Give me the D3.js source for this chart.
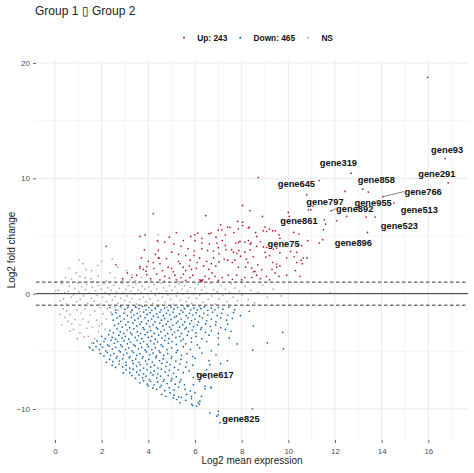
<!DOCTYPE html>
<html><head><meta charset="utf-8">
<script src="https://cdn.jsdelivr.net/npm/d3@7"></script>
<style>body{margin:0;background:#fff}svg{display:block}</style>
</head><body>
<svg id="chart" width="474" height="473"></svg>
<script>
const title = "Group 1 \u25AF Group 2";
const xLabel = "Log2 mean expression";
const yLabel = "Log2 fold change";
const xTicks = [0,2,4,6,8,10,12,14,16];
const yTicks = [-10,0,10,20];
const legendLabels = ["Up: 243","Down: 465","NS"];
const fcLines = [0,-1,1];

const labeledGenes = [
 {name:"gene93",x:16.72,y:11.71,status:"up"},
 {name:"gene291",x:16.85,y:9.61,status:"up"},
 {name:"gene319",x:12.69,y:10.45,status:"up"},
 {name:"gene858",x:13.43,y:8.81,status:"up"},
 {name:"gene645",x:11.32,y:9.81,status:"up"},
 {name:"gene766",x:14.05,y:8.42,status:"up"},
 {name:"gene797",x:10.97,y:7.27,status:"up"},
 {name:"gene955",x:13.72,y:6.64,status:"up"},
 {name:"gene892",x:11.83,y:7.19,status:"up"},
 {name:"gene513",x:14.53,y:7.85,status:"up"},
 {name:"gene861",x:11.54,y:6.41,status:"up"},
 {name:"gene523",x:13.39,y:5.31,status:"up"},
 {name:"gene75",x:10.57,y:4.16,status:"up"},
 {name:"gene896",x:11.33,y:4.39,status:"up"},
 {name:"gene617",x:5.93,y:-7.25,status:"down"},
 {name:"gene825",x:7.07,y:-11.19,status:"down"}
];

const upPoints = [
[15.97,18.76],[13.19,9.06],[12.43,8.86],[11.06,7.6],[10.79,8.57],[10.86,7.27],[12.07,6.32],[12.5,6.7],[13.33,6.64],[11.6,6.03],[11.5,5.54],[10.43,4.24],[10.83,4.59],[11.47,4.68],
[10.64,3.09],[10.8,3.1],[10.0,7.04],[10.04,6.7],[10.23,5.31],[10.45,5.17],[10.1,3.66],[10.36,3.58],[10.25,3.2],[10.36,2.7],[10.55,2.9],[10.6,2.6],[10.3,2.0],[10.5,1.5],
[9.93,3.09],[9.93,1.6],[9.6,5.1],[9.64,4.8],[9.33,5.45],[9.45,5.45],[9.19,5.6],[9.07,5.39],[8.93,5.45],[9.0,5.77],[9.36,3.85],[9.5,3.95],[9.64,3.55],[9.07,4.0],[8.93,4.05],
[9.0,3.58],[9.04,3.17],[9.2,3.3],[9.33,2.7],[9.5,2.57],[9.64,2.4],[9.3,2.1],[9.5,2.3],[9.07,1.5],[9.43,1.8],[9.6,1.5],[8.86,2.07],[8.89,6.7],[8.71,10.07],
[8.04,7.65],[8.36,7.2],[7.83,6.26],[8.04,6.2],[8.04,5.9],[8.29,5.7],[8.33,5.77],[7.86,5.6],[7.4,5.77],[7.1,5.97],[7.5,5.74],[7.15,5.54],[7.0,5.5],[6.6,5.2],[6.69,5.25],
[6.12,5.25],[6.0,5.1],[7.67,5.3],[8.64,4.96],[8.14,4.47],[8.29,4.6],[8.4,4.4],[7.93,4.53],[8.36,4.3],[8.64,4.1],[7.86,4.45],[7.75,4.39],[7.3,4.18],[7.17,4.6],[7.0,3.99],
[6.94,4.39],[6.62,4.3],[6.29,4.39],[6.0,4.59],[8.36,3.8],[8.14,3.6],[7.88,3.75],[7.65,3.6],[7.57,3.81],[7.8,3.5],[7.33,3.8],[7.03,3.46],[6.79,3.7],[6.54,3.75],[6.29,3.9],
[5.97,3.7],[7.71,2.9],[7.25,3.0],[7.4,2.9],[7.6,2.7],[7.03,2.75],[6.89,2.4],[6.59,2.1],[6.73,1.8],[6.37,2.4],[6.06,2.2],[7.86,2.3],[8.17,2.3],[8.27,2.7],[8.5,1.9],
[8.69,2.5],[8.43,2.22],[8.57,1.93],[8.64,1.6],[8.43,1.4],[8.14,1.4],[7.79,1.6],[7.43,1.6],[7.17,1.4],[6.86,1.5],[6.43,1.5],[6.21,1.2],[6.27,1.15],[6.33,1.2],[6.3,1.08],
[6.24,1.1],[6.46,6.76],[8.0,1.2],[7.6,1.25],[7.0,1.15],[6.6,1.3],[8.8,1.3],[9.2,1.2],[6.8,3.1],[6.5,2.8],[6.2,3.1],[8.5,3.2],[8.2,3.0],[7.95,3.25],[6.9,4.9],[7.3,5.1],
[6.3,4.8],[8.6,5.3],[8.8,4.5],[6.1,2.7],[6.7,2.6],
[4.21,6.93],[5.82,4.96],[5.7,3.9],[5.4,4.1],[4.7,4.47],[4.39,4.59],[4.43,3.75],[4.47,3.09],[4.78,3.03],[4.21,2.7],[4.5,2.6],[4.85,2.3],[5.07,1.9],[5.29,2.8],[5.36,2.6],
[5.5,2.3],[5.79,2.9],[5.76,2.4],[5.79,1.4],[5.5,1.7],[5.14,1.6],[4.7,1.5],[4.36,1.7],[3.64,4.96],[3.86,5.1],[2.19,4.1],[2.61,2.5],[3.83,3.8],[3.64,2.2],[3.79,2.1],
[3.93,2.35],[4.24,2.2],[4.43,3.1],[3.9,1.95],[3.64,2.36],[3.93,1.65],[4.1,1.3],[4.5,1.2],[4.9,1.35],[5.2,1.2],[5.6,1.15],[5.9,1.6],[5.3,3.4],[5.0,3.6],[4.9,4.9],
[5.2,5.3],[5.6,3.3],[5.95,3.3],[4.6,2.0],[5.0,2.2],[5.4,1.4],[4.3,3.4],[3.5,1.6],[3.3,1.4],[3.1,1.8],[2.9,1.3],[4.0,2.8],[5.6,2.0],[5.85,2.1],[3.7,3.1],[5.1,4.3],[5.5,4.6]
];

const downPoints = [
[2.35,-1.2],[2.6,-1.4],[2.8,-1.1],[3.0,-1.35],[3.12,-1.2],[3.3,-1.45],[3.45,-1.15],[3.6,-1.3],[3.75,-1.1],[3.9,-1.4],[4.02,-1.2],[4.15,-1.45],[4.3,-1.3],[4.42,-1.1],[4.55,-1.4],[4.7,-1.25],[4.85,-1.45],[4.97,-1.15],[5.1,-1.35],[5.25,-1.2],[5.4,-1.45],[5.55,-1.3],[5.7,-1.1],[5.82,-1.4],[5.95,-1.25],[6.1,-1.4],[6.25,-1.3],[6.4,-1.15],[6.55,-1.45],[6.7,-1.25],[6.85,-1.4],[7.0,-1.2],[7.2,-1.35],[7.45,-1.15],[7.7,-1.4],[8.33,-1.53],
[2.45,-1.8],[2.62,-1.65],[2.78,-1.95],[2.95,-1.7],[3.1,-1.9],[3.25,-1.6],[3.38,-1.85],[3.52,-1.7],[3.66,-1.95],[3.8,-1.6],[3.95,-1.8],[4.08,-1.65],[4.22,-1.95],[4.36,-1.75],[4.5,-1.6],[4.64,-1.9],[4.78,-1.7],[4.92,-1.85],[5.06,-1.6],[5.2,-1.95],[5.34,-1.75],[5.48,-1.6],[5.62,-1.9],[5.76,-1.7],[5.9,-1.85],[6.05,-1.65],[6.2,-1.95],[6.38,-1.7],[6.55,-1.85],[6.75,-1.6],[6.95,-1.9],[7.15,-1.7],[7.4,-1.85],[7.65,-1.65],[7.95,-1.9],
[2.5,-2.3],[2.66,-2.1],[2.82,-2.4],[2.97,-2.2],[3.13,-2.45],[3.28,-2.05],[3.42,-2.3],[3.57,-2.15],[3.71,-2.45],[3.86,-2.1],[4.0,-2.35],[4.14,-2.2],[4.28,-2.45],[4.42,-2.05],[4.56,-2.3],[4.7,-2.15],[4.84,-2.4],[4.98,-2.25],[5.12,-2.05],[5.27,-2.4],[5.41,-2.2],[5.56,-2.45],[5.7,-2.1],[5.85,-2.35],[6.0,-2.2],[6.15,-2.45],[6.32,-2.1],[6.5,-2.35],[6.7,-2.2],[6.9,-2.45],[7.1,-2.1],[7.35,-2.3],[7.6,-2.15],
[2.55,-2.75],[2.72,-2.6],[2.88,-2.9],[3.04,-2.7],[3.2,-2.95],[3.34,-2.55],[3.5,-2.8],[3.64,-2.65],[3.78,-2.95],[3.92,-2.6],[4.06,-2.85],[4.2,-2.7],[4.35,-2.95],[4.49,-2.55],[4.63,-2.8],[4.77,-2.65],[4.91,-2.9],[5.05,-2.75],[5.2,-2.55],[5.34,-2.9],[5.48,-2.7],[5.63,-2.95],[5.78,-2.6],[5.93,-2.85],[6.1,-2.7],[6.28,-2.95],[6.46,-2.6],[6.66,-2.85],[6.88,-2.7],[7.1,-2.95],[7.4,-2.65],[8.5,-2.8],
[2.35,-3.2],[2.5,-3.4],[2.66,-3.05],[2.8,-3.3],[2.95,-3.45],[3.1,-3.15],[3.24,-3.4],[3.38,-3.05],[3.53,-3.3],[3.67,-3.45],[3.82,-3.1],[3.96,-3.35],[4.1,-3.2],[4.25,-3.45],[4.4,-3.05],[4.54,-3.3],[4.68,-3.15],[4.83,-3.45],[4.97,-3.1],[5.12,-3.35],[5.27,-3.2],[5.42,-3.45],[5.57,-3.05],[5.72,-3.3],[5.88,-3.15],[6.05,-3.4],[6.25,-3.1],[6.45,-3.35],[6.7,-3.2],[7.0,-3.45],[7.3,-3.1],[7.55,-3.26],[9.76,-3.35],
[2.0,-3.7],[2.15,-3.9],[2.3,-3.55],[2.45,-3.8],[2.6,-3.95],[2.74,-3.6],[2.88,-3.85],[3.02,-3.7],[3.16,-3.95],[3.3,-3.55],[3.44,-3.8],[3.58,-3.65],[3.72,-3.9],[3.86,-3.55],[4.0,-3.8],[4.15,-3.7],[4.3,-3.95],[4.44,-3.6],[4.58,-3.85],[4.73,-3.65],[4.88,-3.9],[5.03,-3.55],[5.18,-3.8],[5.34,-3.7],[5.5,-3.95],[5.67,-3.6],[5.85,-3.85],[6.05,-3.7],[6.3,-3.9],[6.6,-3.6],[7.0,-3.85],[7.47,-3.84],
[1.65,-4.3],[1.8,-4.1],[1.95,-4.4],[2.1,-4.15],[2.25,-4.45],[2.4,-4.05],[2.54,-4.3],[2.68,-4.15],[2.82,-4.45],[2.96,-4.1],[3.1,-4.35],[3.24,-4.2],[3.38,-4.45],[3.52,-4.05],[3.66,-4.3],[3.8,-4.15],[3.95,-4.4],[4.1,-4.1],[4.25,-4.35],[4.4,-4.2],[4.55,-4.45],[4.7,-4.05],[4.86,-4.3],[5.02,-4.15],[5.2,-4.4],[5.4,-4.1],[5.6,-4.35],[5.85,-4.2],[6.1,-4.45],[6.5,-4.15],[7.0,-4.4],[7.81,-4.36],[9.1,-4.27],
[1.5,-4.7],[1.62,-4.9],[1.76,-4.6],[1.9,-4.85],[2.04,-4.65],[2.18,-4.95],[2.32,-4.55],[2.46,-4.8],[2.6,-4.65],[2.74,-4.95],[2.88,-4.6],[3.02,-4.85],[3.16,-4.7],[3.3,-4.95],[3.44,-4.55],[3.58,-4.8],[3.72,-4.65],[3.86,-4.9],[4.0,-4.6],[4.15,-4.85],[4.3,-4.7],[4.46,-4.95],[4.62,-4.6],[4.8,-4.85],[5.0,-4.7],[5.25,-4.9],[5.5,-4.6],[5.8,-4.85],[6.2,-4.7],[6.7,-4.95],[8.47,-4.9],[9.79,-4.79],
[1.95,-5.2],[2.1,-5.4],[2.24,-5.1],[2.38,-5.35],[2.52,-5.2],[2.66,-5.45],[2.8,-5.05],[2.94,-5.3],[3.08,-5.15],[3.22,-5.45],[3.36,-5.1],[3.5,-5.35],[3.64,-5.2],[3.78,-5.45],[3.92,-5.05],[4.06,-5.3],[4.2,-5.15],[4.35,-5.4],[4.5,-5.1],[4.66,-5.35],[4.83,-5.2],[5.0,-5.45],[5.2,-5.1],[5.42,-5.35],[5.65,-5.2],[5.9,-5.45],[6.3,-5.15],[6.9,-5.3],
[2.2,-5.95],[2.34,-5.7],[2.48,-5.9],[2.62,-5.6],[2.76,-5.85],[2.9,-5.65],[3.04,-5.95],[3.18,-5.55],[3.32,-5.8],[3.46,-5.65],[3.6,-5.95],[3.74,-5.6],[3.88,-5.85],[4.02,-5.7],[4.17,-5.95],[4.32,-5.55],[4.48,-5.8],[4.64,-5.65],[4.8,-5.95],[4.98,-5.6],[5.18,-5.85],[5.4,-5.7],[5.65,-5.95],[6.0,-5.6],[6.6,-5.8],[7.39,-5.8],
[2.45,-6.2],[2.6,-6.4],[2.75,-6.1],[2.9,-6.35],[3.05,-6.2],[3.2,-6.45],[3.35,-6.05],[3.5,-6.3],[3.65,-6.15],[3.8,-6.45],[3.95,-6.1],[4.1,-6.35],[4.26,-6.2],[4.42,-6.45],[4.58,-6.05],[4.75,-6.3],[4.93,-6.15],[5.12,-6.4],[5.35,-6.1],[5.6,-6.35],[5.9,-6.2],[6.64,-6.15],[7.1,-6.06],
[2.93,-6.87],[3.05,-6.6],[3.2,-6.85],[3.35,-6.55],[3.5,-6.8],[3.65,-6.65],[3.8,-6.95],[3.95,-6.6],[4.1,-6.85],[4.25,-6.7],[4.4,-6.95],[4.56,-6.55],[4.72,-6.8],[4.9,-6.65],[5.08,-6.9],[5.28,-6.6],[5.5,-6.85],[5.75,-6.7],[6.1,-6.9],[6.5,-6.6],
[3.3,-7.1],[3.45,-7.35],[3.6,-7.05],[3.75,-7.3],[3.9,-7.15],[4.05,-7.45],[4.2,-7.05],[4.36,-7.3],[4.52,-7.15],[4.68,-7.45],[4.85,-7.1],[5.02,-7.35],[5.2,-7.2],[5.4,-7.45],[6.3,-7.1],[6.6,-7.35],
[3.64,-7.73],[3.8,-7.55],[3.95,-7.85],[4.1,-7.6],[4.25,-7.9],[4.4,-7.65],[4.56,-7.95],[4.64,-7.6],[4.8,-7.8],[4.98,-7.55],[5.15,-7.85],[5.35,-7.65],[5.55,-7.9],[5.93,-7.9],[6.2,-7.6],
[4.0,-8.0],[4.2,-8.2],[4.36,-8.3],[4.5,-8.1],[4.7,-8.4],[4.9,-8.15],[5.1,-8.35],[5.3,-8.1],[5.57,-8.3],[5.8,-8.45],[6.43,-8.03],[6.67,-8.1],[6.43,-8.25],[6.7,-8.17],
[4.57,-8.74],[4.75,-8.9],[4.93,-8.6],[5.1,-8.8],[5.3,-8.95],[5.64,-8.74],[5.85,-8.9],[6.28,-8.9],[6.0,-8.6],
[5.07,-9.03],[5.21,-9.18],[5.42,-9.0],[5.36,-9.46],[5.6,-9.25],[6.21,-9.32],[6.14,-9.47],[5.85,-9.1],
[5.86,-9.6],[6.07,-9.76],[5.9,-9.7],[6.19,-9.6],[6.64,-10.33],[7.0,-10.2],[6.93,-10.62],[8.46,-9.98],[7.0,-10.5]
];

const nsPoints = [
[0.03,0.25],[0.15,0.3],[0.22,-0.6],[0.3,0.85],[0.36,-0.46],[0.42,0.1],[0.5,-0.9],[0.57,0.2],[0.62,0.65],[0.7,-0.3],[0.79,-0.1],[0.85,0.45],[0.92,-0.7],[0.98,0.9],
[1.03,0.15],[1.08,-0.5],[1.15,0.6],[1.22,-0.2],[1.3,0.35],[1.36,0.78],[1.4,-0.85],[1.47,0.05],[1.55,-0.4],[1.6,0.55],[1.68,-0.65],[1.74,0.25],[1.8,-0.15],[1.86,0.7],[1.93,-0.9],[1.98,0.4],
[2.04,-0.3],[2.1,0.85],[2.15,0.1],[2.21,-0.7],[2.27,0.5],[2.33,-0.1],[2.4,0.3],[2.46,-0.55],[2.52,0.75],[2.57,-0.25],[2.63,0.15],[2.7,-0.85],[2.76,0.45],[2.82,-0.4],[2.88,0.9],[2.93,0.05],[2.98,-0.6],
[3.03,0.35],[3.08,-0.2],[3.14,0.7],[3.2,-0.75],[3.25,0.2],[3.3,-0.4],[3.36,0.55],[3.42,-0.05],[3.47,0.85],[3.5,-0.9],[3.56,0.3],[3.62,-0.5],[3.68,0.1],[3.73,0.65],[3.79,-0.3],[3.85,0.4],[3.9,-0.7],[3.96,0.0],
[4.02,0.6],[4.07,-0.45],[4.13,0.2],[4.19,-0.85],[4.25,0.8],[4.3,-0.15],[4.36,0.4],[4.42,-0.6],[4.48,0.05],[4.53,0.9],[4.6,-0.3],[4.66,0.5],[4.72,-0.75],[4.78,0.25],[4.84,-0.1],[4.9,0.7],[4.95,-0.5],
[5.02,0.3],[5.08,-0.9],[5.14,0.6],[5.2,-0.2],[5.26,0.1],[5.32,0.85],[5.38,-0.55],[5.44,0.4],[5.5,-0.05],[5.56,0.7],[5.62,-0.7],[5.68,0.2],[5.74,-0.35],[5.8,0.55],[5.86,-0.85],[5.92,0.0],
[6.0,0.45],[6.07,-0.4],[6.14,0.8],[6.2,-0.1],[6.28,0.3],[6.35,-0.75],[6.42,0.6],[6.5,0.05],[6.57,-0.5],[6.64,0.9],[6.72,-0.2],[6.8,0.35],[6.88,-0.9],[6.95,0.15],
[7.04,-0.45],[7.12,0.7],[7.2,-0.15],[7.3,0.4],[7.38,-0.7],[7.47,0.1],[7.55,0.85],[7.63,-0.3],[7.72,0.5],[7.82,-0.6],[7.9,0.2],
[8.02,-0.1],[8.15,0.65],[8.28,-0.5],[8.4,0.3],[8.55,-0.8],[8.7,0.1],[8.9,0.75],[9.1,-0.3],[9.35,0.4],[9.7,-0.2],[11.8,0.1],
[0.71,1.27],[1.07,1.5],[1.29,1.36],[1.55,1.3],[1.86,1.56],[2.21,1.1],[2.57,1.4],[2.9,1.15],[3.21,1.2],[3.7,1.4],[3.45,1.1],[0.9,1.8],[1.04,2.94],[1.33,2.1],[1.57,2.0],[1.83,2.45],
[2.35,1.8],[3.07,2.0],[2.7,2.3],[0.45,1.4],[0.3,1.1],[1.2,2.6],[2.0,2.8],[4.1,1.15],[4.43,5.1],[4.43,4.5],[2.45,3.0],[1.65,1.05],[0.6,2.2],[3.95,1.05],[4.7,1.1],[5.3,1.05],[3.3,1.6],
[0.21,-1.8],[0.35,-1.3],[0.43,-2.05],[0.5,-1.5],[0.64,-1.8],[0.72,-2.6],[0.86,-2.25],[0.95,-1.4],[1.07,-2.7],[1.12,-1.7],[1.2,-2.2],[1.29,-1.3],[1.36,-3.0],[1.43,-2.45],[1.5,-1.85],[1.6,-2.9],
[1.71,-1.5],[1.78,-2.3],[1.86,-3.3],[1.93,-1.2],[2.0,-2.6],[2.07,-1.75],[2.15,-3.1],[0.64,-3.26],[0.79,-3.1],[1.07,-3.4],[1.25,-3.75],[1.43,-3.7],[1.57,-4.27],[1.45,-4.6],[1.7,-3.9],[0.95,-3.9],
[2.25,-1.3],[2.4,-1.6],[2.55,-1.15],[2.7,-1.45],[2.85,-1.25],[3.0,-1.6],[3.15,-1.1],[3.3,-1.4],[3.5,-1.2],[3.65,-1.55],[3.85,-1.1],[4.3,-1.2],[4.8,-1.15],[5.5,-1.1],[6.2,-1.15],[0.3,-2.7],[0.55,-2.4],[2.2,-2.2],[1.9,-2.75]
];

const colors = {up:"#B31B21", down:"#1465AC", ns:"#A9A9A9"};

const svg = d3.select("#chart");
const W = 474, H = 473;
const panel = {left:36, right:468, top:60, bottom:440};
const x = d3.scaleLinear().domain([-0.814, 17.70]).range([panel.left, panel.right]);
const y = d3.scaleLinear().domain([-12.69, 20.26]).range([panel.bottom, panel.top]);
const font = "'Liberation Sans', Arial, Helvetica, sans-serif";

svg.append("rect").attr("width",W).attr("height",H).attr("fill","#fff");

// grid
const g = svg.append("g");
const xMinor = d3.range(1, 18, 2);
const yMinor = [-5, 5, 15];
g.selectAll(".xminor").data(xMinor).join("line")
 .attr("x1",d=>x(d)).attr("x2",d=>x(d)).attr("y1",panel.top).attr("y2",panel.bottom)
 .attr("stroke","#EFEFEF").attr("stroke-width",0.7);
g.selectAll(".yminor").data(yMinor).join("line")
 .attr("y1",d=>y(d)).attr("y2",d=>y(d)).attr("x1",panel.left).attr("x2",panel.right)
 .attr("stroke","#EFEFEF").attr("stroke-width",0.7);
g.selectAll(".xmajor").data(xTicks).join("line")
 .attr("x1",d=>x(d)).attr("x2",d=>x(d)).attr("y1",panel.top).attr("y2",panel.bottom)
 .attr("stroke","#EBEBEB").attr("stroke-width",1);
g.selectAll(".ymajor").data(yTicks).join("line")
 .attr("y1",d=>y(d)).attr("y2",d=>y(d)).attr("x1",panel.left).attr("x2",panel.right)
 .attr("stroke","#EBEBEB").attr("stroke-width",1);

// points
const pts = svg.append("g");
function drawPts(data, col){
  pts.append("g").selectAll("circle").data(data).join("circle")
   .attr("cx",d=>x(d[0])).attr("cy",d=>y(d[1])).attr("r",0.85).attr("fill",col);
}
drawPts(nsPoints, colors.ns);
drawPts(upPoints, colors.up);
drawPts(downPoints, colors.down);
pts.append("g").selectAll("circle").data(labeledGenes).join("circle")
 .attr("cx",d=>x(d.x)).attr("cy",d=>y(d.y)).attr("r",0.85).attr("fill",d=>colors[d.status]);

// reference lines
svg.append("g").selectAll("line").data(fcLines).join("line")
 .attr("x1",panel.left).attr("x2",panel.right)
 .attr("y1",d=>y(d)).attr("y2",d=>y(d))
 .attr("stroke","#333").attr("stroke-width",1)
 .attr("stroke-dasharray",d=>d===0?null:"3.5,2.5");

// axes
const xAxis = svg.append("g").attr("transform",`translate(0,${panel.bottom})`)
 .call(d3.axisBottom(x).tickValues(xTicks).tickSize(3).tickPadding(5.3));
const yAxis = svg.append("g").attr("transform",`translate(${panel.left},0)`)
 .call(d3.axisLeft(y).tickValues(yTicks).tickSize(3).tickPadding(3));
[xAxis,yAxis].forEach(a=>{
  a.select(".domain").remove();
  a.selectAll(".tick line").attr("stroke","#555").attr("stroke-width",0.9);
  a.selectAll(".tick text").attr("fill","#4D4D4D").style("font-family",font).style("font-size","8px");
});

// labels
const labelNudge = {
 gene93:[2,-5.7], gene291:[-11.3,-6], gene319:[-12.7,-7], gene858:[8,-9.3],
 gene645:[-22.7,6.8], gene766:[40.3,-2], gene797:[14,-5.3], gene955:[-2,-11],
 gene892:[23.7,1], gene513:[25.3,9.7], gene861:[-25.3,4.7], gene523:[32,-3],
 gene75:[-18,1], gene896:[34,3], gene617:[21.7,0.3], gene825:[21,-1]
};
const withSegment = ["gene766","gene892"];
const lab = svg.append("g");
labeledGenes.forEach(d=>{
  const px = x(d.x), py = y(d.y);
  const [dx,dy] = labelNudge[d.name];
  const t = lab.append("text").attr("x",px+dx).attr("y",py+dy)
   .attr("text-anchor","middle").attr("fill","#111")
   .style("font-family",font).style("font-size","9.3px").style("font-weight","bold")
   .text(d.name);
  if (withSegment.includes(d.name)) {
    const w = t.node().getComputedTextLength();
    lab.append("line").attr("x1",px+1).attr("y1",py)
     .attr("x2",px+dx-w/2-0.5).attr("y2",py+dy-3)
     .attr("stroke","#333").attr("stroke-width",0.6);
  }
});

// title
svg.append("text").attr("x",35).attr("y",15.3).attr("fill","#222")
 .style("font-family",font).style("font-size","12px").text(title);

// legend
const legColors = [colors.up, colors.down, colors.ns];
let lx = 184;
const leg = svg.append("g");
legendLabels.forEach((l,i)=>{
  leg.append("circle").attr("cx",lx).attr("cy",37.8).attr("r",1).attr("fill",legColors[i]);
  const t = leg.append("text").attr("x",lx+13.3).attr("y",40.8).attr("fill","#111")
   .style("font-family",font).style("font-size","8.3px").style("font-weight","bold").text(l);
  lx = lx + 13.3 + t.node().getComputedTextLength() + 13;
});

// axis titles
svg.append("text").attr("x",(panel.left+panel.right)/2).attr("y",464.3)
 .attr("text-anchor","middle").attr("fill","#222")
 .style("font-family",font).style("font-size","10px").text(xLabel);
svg.append("text").attr("transform",`translate(15,${(panel.top+panel.bottom)/2}) rotate(-90)`)
 .attr("text-anchor","middle").attr("fill","#222")
 .style("font-family",font).style("font-size","10px").text(yLabel);
</script>
</body></html>
